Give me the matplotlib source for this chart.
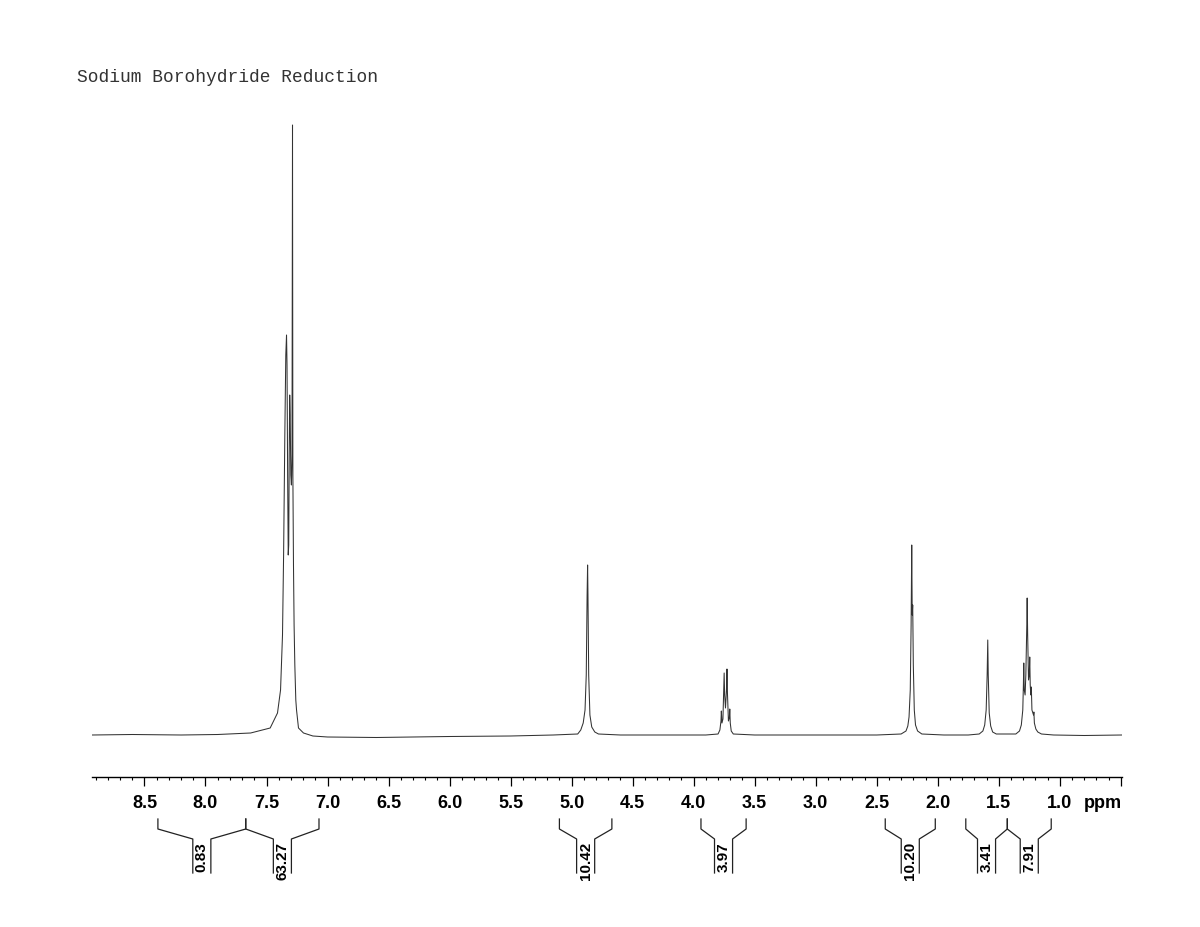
import matplotlib
matplotlib.use("Agg")
import matplotlib.pyplot as plt
import matplotlib.transforms as mtransforms
from matplotlib.ticker import MultipleLocator, FixedLocator, FixedFormatter

# trace: ppm and height above the baseline (pixels)
base_ppm = [8.93, 8.6, 8.2, 7.9, 7.0, 6.6, 6.0, 5.5, 5.15, 4.6, 4.2, 3.9,
            3.5, 3.0, 2.5, 1.95, 1.75, 1.05, 0.8, 0.49]
base_h = [0, 0.5, 0, 0.5, -2, -2.5, -1.5, -1, 0, 0, 0, 0,
          0, 0, 0, 0, 0, 0, -0.5, 0]

arom_ppm = [7.63, 7.47, 7.41, 7.385, 7.369, 7.360, 7.350, 7.342, 7.336, 7.332,
            7.327, 7.322, 7.318, 7.314, 7.310, 7.306, 7.301, 7.296, 7.291,
            7.287, 7.284, 7.279, 7.274, 7.268, 7.260, 7.254, 7.238, 7.197, 7.12]
arom_h = [2, 7, 22, 45, 100, 180, 300, 380, 400, 370,
          260, 180, 190, 280, 340, 320, 260, 250, 280,
          610, 260, 170, 110, 70, 35, 25, 7, 2, -1]

oh_ppm = [4.95, 4.925, 4.905, 4.89, 4.88, 4.873, 4.869, 4.866, 4.86, 4.85,
          4.835, 4.81, 4.78]
oh_h = [1, 5, 12, 25, 60, 140, 170, 140, 60, 20, 8, 3, 1]

ch2_ppm = [3.80, 3.785, 3.776, 3.773, 3.768, 3.760, 3.753, 3.750, 3.746,
           3.739, 3.731, 3.727, 3.723, 3.715, 3.707, 3.704, 3.700, 3.692, 3.675]
ch2_h = [1, 5, 14, 24, 12, 16, 48, 62, 40,
         27, 45, 66, 42, 14, 18, 26, 12, 4, 1]

s22_ppm = [2.30, 2.26, 2.245, 2.235, 2.225, 2.218, 2.213, 2.209, 2.205,
           2.200, 2.192, 2.182, 2.165, 2.13]
s22_h = [1, 4, 9, 18, 45, 110, 190, 120, 130, 70, 25, 10, 4, 1]

s16_ppm = [1.66, 1.63, 1.615, 1.603, 1.595, 1.590, 1.586, 1.578, 1.566, 1.55, 1.52]
s16_h = [1, 4, 10, 25, 60, 95, 60, 22, 9, 3, 1]

ch3_ppm = [1.36, 1.33, 1.315, 1.303, 1.298, 1.295, 1.291, 1.284, 1.278,
           1.270, 1.267, 1.263, 1.256, 1.250, 1.246, 1.242, 1.237, 1.233,
           1.228, 1.215, 1.212, 1.208, 1.196, 1.18, 1.15]
ch3_h = [1, 4, 10, 25, 50, 72, 45, 40, 60,
         110, 137, 100, 55, 60, 78, 50, 40, 48,
         25, 20, 23, 12, 6, 3, 1]

# integrals
int_from = [8.39, 7.67, 5.10, 3.94, 2.43, 1.77, 1.43]
int_to = [7.67, 7.07, 4.67, 3.57, 2.02, 1.43, 1.07]
int_labels = ["0.83", "63.27", "10.42", "3.97", "10.20", "3.41", "7.91"]

major_ticks = [8.5, 8.0, 7.5, 7.0, 6.5, 6.0, 5.5, 5.0, 4.5, 4.0, 3.5, 3.0, 2.5, 2.0, 1.5, 1.0, 0.5]
major_labels = ["8.5", "8.0", "7.5", "7.0", "6.5", "6.0", "5.5", "5.0", "4.5",
                "4.0", "3.5", "3.0", "2.5", "2.0", "1.5", "1.0", ""]

pts = list(zip(base_ppm, base_h)) + list(zip(arom_ppm, arom_h)) + \
    list(zip(oh_ppm, oh_h)) + list(zip(ch2_ppm, ch2_h)) + \
    list(zip(s22_ppm, s22_h)) + list(zip(s16_ppm, s16_h)) + list(zip(ch3_ppm, ch3_h))
pts.sort(key=lambda p: -p[0])
xs = [p[0] for p in pts]
ys = [p[1] for p in pts]

W, H = 1200, 927
fig = plt.figure(figsize=(W / 100, H / 100), dpi=100)
ax_bottom_px, ax_top_px = 777, 100
ax = fig.add_axes([92 / W, (H - ax_bottom_px) / H, 1030 / W, (ax_bottom_px - ax_top_px) / H])

ax.plot(xs, ys, color="#333333", lw=0.75)
ax.set_xlim(8.93, 0.49)
ax.set_ylim(-42, 635)

for s in ["top", "left", "right"]:
    ax.spines[s].set_visible(False)
ax.spines["bottom"].set_linewidth(1.0)
ax.set_yticks([])

ax.xaxis.set_major_locator(FixedLocator(major_ticks))
ax.xaxis.set_major_formatter(FixedFormatter(major_labels))
ax.xaxis.set_minor_locator(MultipleLocator(0.1))
ax.tick_params(axis="x", which="major", direction="out", length=6.5, width=0.9, pad=6.5)
ax.tick_params(axis="x", which="minor", direction="out", length=2.5, width=0.8)
for lab in ax.get_xticklabels():
    lab.set_fontfamily("Liberation Sans")
    lab.set_fontweight("bold")
    lab.set_fontsize(13)

trans = mtransforms.blended_transform_factory(ax.transData, ax.transAxes)


def ypx(y):
    # pixel row in the figure -> axes fraction
    return (ax_bottom_px - y) / (ax_bottom_px - ax_top_px)


ax.text(0.80, ypx(808), "ppm", transform=trans, ha="left", va="baseline",
        fontfamily="Liberation Sans", fontweight="bold", fontsize=13)

gap = 0.074
for a, b, lab in zip(int_from, int_to, int_labels):
    c = (a + b) / 2
    for end, inner in [(a, c + gap), (b, c - gap)]:
        ax.plot([end, end, inner, inner], [ypx(819), ypx(829), ypx(839), ypx(873)],
                transform=trans, color="#222222", lw=0.9, clip_on=False)
    ax.text(c, ypx(842), lab, transform=trans, rotation=90, ha="center", va="top",
            fontfamily="Liberation Sans", fontweight="bold", fontsize=11)

fig.text(77 / W, 1 - 78 / H, "Sodium Borohydride Reduction", ha="left", va="center",
         fontfamily="Liberation Mono", fontsize=12.9, color="#333333")

fig.savefig("out.png", dpi=100)
